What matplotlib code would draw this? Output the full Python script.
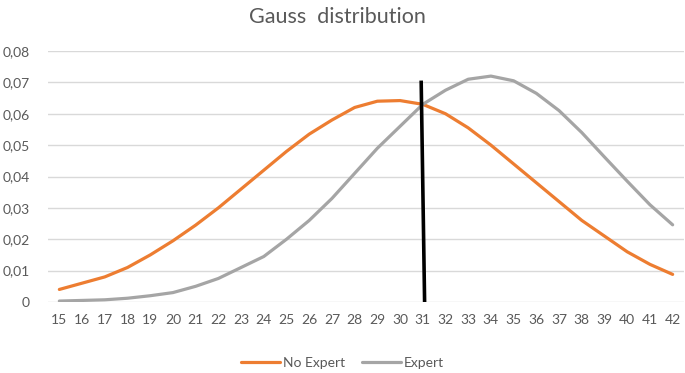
import matplotlib
matplotlib.use("Agg")
import matplotlib.pyplot as plt
from matplotlib.ticker import FuncFormatter

plt.rcParams["font.family"] = ["Lato", "DejaVu Sans"]

# data
scores = list(range(15, 43))
no_expert = [0.004, 0.006, 0.008, 0.011, 0.015, 0.0195, 0.0245, 0.030, 0.036, 0.042,
             0.048, 0.0535, 0.058, 0.062, 0.064, 0.0642, 0.063, 0.060, 0.0555, 0.050,
             0.044, 0.038, 0.032, 0.026, 0.021, 0.016, 0.012, 0.0088]
expert = [0.0003, 0.0005, 0.0007, 0.0012, 0.002, 0.003, 0.005, 0.0075, 0.011, 0.0145,
          0.020, 0.026, 0.033, 0.041, 0.049, 0.056, 0.063, 0.0675, 0.071, 0.072,
          0.0705, 0.0665, 0.061, 0.054, 0.0462, 0.0385, 0.031, 0.0246]
threshold_x = 31
threshold_top = 0.070
y_ticks = [0, 0.01, 0.02, 0.03, 0.04, 0.05, 0.06, 0.07, 0.08]

TEXT = "#595959"
ORANGE = "#ED7D31"
GRAY = "#A5A5A5"

fig = plt.figure(figsize=(6.85, 3.73), dpi=100)
ax = fig.add_axes([48 / 685, 71 / 373, 636 / 685, 251 / 373])

ax.plot(scores, no_expert, color=ORANGE, lw=2.3, label="No Expert", solid_capstyle="round")
ax.plot(scores, expert, color=GRAY, lw=2.3, label="Expert", solid_capstyle="round")
ax.plot([threshold_x - 0.07, threshold_x + 0.08], [threshold_top, 0], color="black", lw=2.6)

ax.set_xlim(scores[0] - 0.5, scores[-1] + 0.5)
ax.set_ylim(0, 0.08)
ax.set_xticks(scores)
ax.set_yticks(y_ticks)
ax.yaxis.set_major_formatter(FuncFormatter(
    lambda v, _: "0" if v == 0 else f"{v:.2f}".replace(".", ",")))
ax.tick_params(length=0, labelsize=10, colors=TEXT)
ax.tick_params(axis="y", pad=13)
ax.tick_params(axis="x", pad=9)
ax.grid(axis="y", color="#D9D9D9", lw=1)
ax.set_axisbelow(True)
for s in ax.spines.values():
    s.set_visible(False)

fig.text(0.492, 0.955, "Gauss  distribution", ha="center", va="center",
         fontsize=15.5, color=TEXT)

fig.legend(loc="center", bbox_to_anchor=(0.5, 0.027), ncol=2, frameon=False,
           fontsize=10, labelcolor=TEXT, handlelength=2.8, handletextpad=0.2,
           columnspacing=1.2)

fig.savefig("out.png", dpi=100)
